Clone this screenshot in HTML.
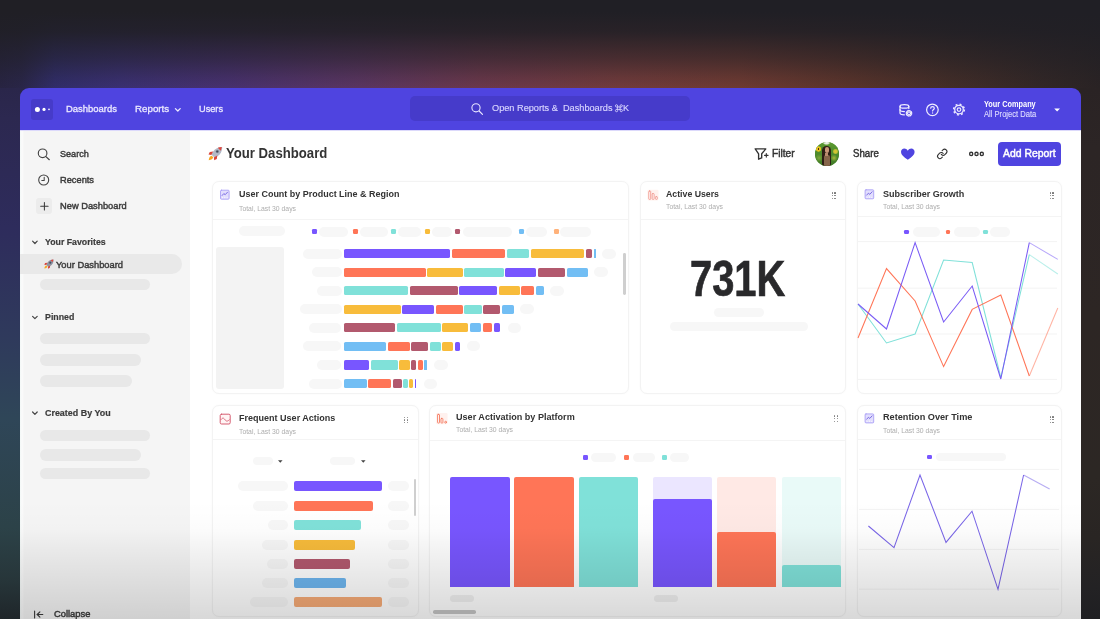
<!DOCTYPE html>
<html><head><meta charset="utf-8"><title>Your Dashboard</title>
<style>
html,body{margin:0;padding:0;font-family:"Liberation Sans",sans-serif}
body{width:1100px;height:619px;overflow:hidden;position:relative;background:#1f1e24;font-family:"Liberation Sans",sans-serif}
.bgtop{position:absolute;left:0;top:0;width:1100px;height:140px;
 background:linear-gradient(to bottom,#201f25 0,#201f25 12px,rgba(32,31,37,.9) 32px,rgba(32,31,37,.55) 58px,rgba(32,31,37,.2) 78px,rgba(32,31,37,0) 94px),
 linear-gradient(to right,#282444 0,#2a264a 22px,#322e6e 55px,#3c3177 120px,#4b3274 230px,#5f3765 360px,#713a4e 480px,#783d3d 620px,#743c33 740px,#5e352b 850px,#452e28 950px,#332726 1040px,#2a2324 1100px)}
.bgleft{position:absolute;left:0;top:88px;width:24px;height:531px;
 background:linear-gradient(to bottom,#2a264a 0,#2c2850 30px,#2e2c5c 140px,#2f3a5c 250px,#2f4658 330px,#2c4248 440px,#27363a 490px,#1f262a 531px)}
.bgright{position:absolute;left:1078px;top:88px;width:22px;height:531px;background:linear-gradient(to bottom,#2a2324 0,#2c2525 60px,#2d2624 230px,#2c2724 390px,#292523 450px,#232224 500px,#1f1f22 531px)}
#win{position:absolute;left:0;top:0;width:1100px;height:619px;clip-path:inset(88px 19px 0 20px round 9px 9px 0 0)}
.nav{position:absolute;left:20px;top:88px;width:1061px;height:42px;background:#4f44e0}
.side{position:absolute;left:20px;top:130px;width:170px;height:489px;background:#f5f5f5}
.main{position:absolute;left:190px;top:130px;width:891px;height:489px;background:#fff}
.t{position:absolute;white-space:nowrap;line-height:1;transform-origin:0 0;display:block}
.b{position:absolute}
.txt{position:absolute;left:0;top:0;width:1100px;height:619px;filter:blur(.3px)}
.card{position:absolute;background:#fff;border:1px solid #f3f3f3;border-radius:7px;box-shadow:0 0 2px rgba(0,0,0,.03)}
.ov{position:absolute;left:0;top:0;overflow:visible}
.fade{position:absolute;left:20px;top:500px;width:1061px;height:119px;
 background:linear-gradient(to bottom,rgba(0,0,0,0) 0,rgba(0,0,0,.01) 28px,rgba(0,0,0,.055) 54px,rgba(0,0,0,.11) 90px,rgba(0,0,0,.152) 119px)}
</style></head>
<body>
<div class="bgtop"></div><div class="bgleft"></div><div class="bgright"></div>
<div id="win">
<div class="nav"></div><div class="side"></div><div class="main"></div>
<div class="b" style="left:20px;top:130px;width:4px;height:489px;background:linear-gradient(to right,#f3f8f7 0,#fbfbfb 55%,#f5f5f5 100%)"></div>
<div class="b" style="left:20px;top:130px;width:1061px;height:1px;background:#dcd9fb"></div>
<div class="b" style="left:31px;top:98.6px;width:22px;height:21.6px;background:#463bc9;border-radius:3px"></div>
<div class="b" style="left:410px;top:96px;width:280px;height:25.2px;background:#463bca;border-radius:5px"></div>
<div class="b" style="left:998px;top:142.3px;width:63px;height:23.3px;background:#4f44e0;border-radius:4px"></div>
<div class="b" style="left:35.7px;top:198.3px;width:16.3px;height:15.9px;background:#ececec;border-radius:3px;"></div>
<div class="b" style="left:20.0px;top:254.3px;width:162.4px;height:19.8px;background:#e9e9e9;border-radius:0px;border-radius:0 10px 10px 0;"></div>
<div class="b" style="left:39.8px;top:279.0px;width:110.5px;height:11.4px;background:#e8e8e8;border-radius:6px;"></div>
<div class="b" style="left:39.8px;top:333.2px;width:110.7px;height:11.2px;background:#e8e8e8;border-radius:6px;"></div>
<div class="b" style="left:39.8px;top:353.8px;width:101.4px;height:11.8px;background:#e8e8e8;border-radius:6px;"></div>
<div class="b" style="left:39.8px;top:375.2px;width:92.0px;height:11.6px;background:#e8e8e8;border-radius:6px;"></div>
<div class="b" style="left:39.8px;top:429.8px;width:110.7px;height:11.2px;background:#e8e8e8;border-radius:6px;"></div>
<div class="b" style="left:39.8px;top:449.1px;width:101.6px;height:11.6px;background:#e8e8e8;border-radius:6px;"></div>
<div class="b" style="left:39.8px;top:468.0px;width:110.7px;height:11.3px;background:#e8e8e8;border-radius:6px;"></div>
<div class="card" style="left:212px;top:181px;width:415.0px;height:211.0px"></div>
<div class="b" style="left:213.0px;top:218.7px;width:415.0px;height:1.1px;background:#f4f4f4;border-radius:0px;"></div>
<div class="card" style="left:639.5px;top:181px;width:204.2px;height:211.0px"></div>
<div class="b" style="left:640.5px;top:218.9px;width:204.2px;height:1.1px;background:#f4f4f4;border-radius:0px;"></div>
<div class="card" style="left:857px;top:181px;width:203.3px;height:211.0px"></div>
<div class="b" style="left:858.0px;top:215.7px;width:203.3px;height:1.1px;background:#f4f4f4;border-radius:0px;"></div>
<div class="card" style="left:212px;top:405px;width:205.3px;height:210.0px"></div>
<div class="b" style="left:213.0px;top:438.7px;width:205.3px;height:1.1px;background:#f4f4f4;border-radius:0px;"></div>
<div class="card" style="left:429px;top:405px;width:414.7px;height:210.0px"></div>
<div class="b" style="left:430.0px;top:440.1px;width:414.7px;height:1.1px;background:#f4f4f4;border-radius:0px;"></div>
<div class="card" style="left:857px;top:405px;width:203.3px;height:209.5px"></div>
<div class="b" style="left:858.0px;top:439.1px;width:203.3px;height:1.1px;background:#f4f4f4;border-radius:0px;"></div>
<div class="b" style="left:831.6px;top:192.2px;width:1.4px;height:1.4px;background:#7a7a7a;border-radius:0.5px;"></div>
<div class="b" style="left:831.6px;top:194.9px;width:1.4px;height:1.4px;background:#7a7a7a;border-radius:0.5px;"></div>
<div class="b" style="left:831.6px;top:197.6px;width:1.4px;height:1.4px;background:#7a7a7a;border-radius:0.5px;"></div>
<div class="b" style="left:834.3px;top:192.2px;width:1.4px;height:1.4px;background:#7a7a7a;border-radius:0.5px;"></div>
<div class="b" style="left:834.3px;top:194.9px;width:1.4px;height:1.4px;background:#7a7a7a;border-radius:0.5px;"></div>
<div class="b" style="left:834.3px;top:197.6px;width:1.4px;height:1.4px;background:#7a7a7a;border-radius:0.5px;"></div>
<div class="b" style="left:1049.6px;top:192.2px;width:1.4px;height:1.4px;background:#7a7a7a;border-radius:0.5px;"></div>
<div class="b" style="left:1049.6px;top:194.9px;width:1.4px;height:1.4px;background:#7a7a7a;border-radius:0.5px;"></div>
<div class="b" style="left:1049.6px;top:197.6px;width:1.4px;height:1.4px;background:#7a7a7a;border-radius:0.5px;"></div>
<div class="b" style="left:1052.3px;top:192.2px;width:1.4px;height:1.4px;background:#7a7a7a;border-radius:0.5px;"></div>
<div class="b" style="left:1052.3px;top:194.9px;width:1.4px;height:1.4px;background:#7a7a7a;border-radius:0.5px;"></div>
<div class="b" style="left:1052.3px;top:197.6px;width:1.4px;height:1.4px;background:#7a7a7a;border-radius:0.5px;"></div>
<div class="b" style="left:404.0px;top:416.6px;width:1.4px;height:1.4px;background:#7a7a7a;border-radius:0.5px;"></div>
<div class="b" style="left:404.0px;top:419.3px;width:1.4px;height:1.4px;background:#7a7a7a;border-radius:0.5px;"></div>
<div class="b" style="left:404.0px;top:422.0px;width:1.4px;height:1.4px;background:#7a7a7a;border-radius:0.5px;"></div>
<div class="b" style="left:406.7px;top:416.6px;width:1.4px;height:1.4px;background:#7a7a7a;border-radius:0.5px;"></div>
<div class="b" style="left:406.7px;top:419.3px;width:1.4px;height:1.4px;background:#7a7a7a;border-radius:0.5px;"></div>
<div class="b" style="left:406.7px;top:422.0px;width:1.4px;height:1.4px;background:#7a7a7a;border-radius:0.5px;"></div>
<div class="b" style="left:833.8px;top:415.2px;width:1.4px;height:1.4px;background:#7a7a7a;border-radius:0.5px;"></div>
<div class="b" style="left:833.8px;top:417.9px;width:1.4px;height:1.4px;background:#7a7a7a;border-radius:0.5px;"></div>
<div class="b" style="left:833.8px;top:420.6px;width:1.4px;height:1.4px;background:#7a7a7a;border-radius:0.5px;"></div>
<div class="b" style="left:836.5px;top:415.2px;width:1.4px;height:1.4px;background:#7a7a7a;border-radius:0.5px;"></div>
<div class="b" style="left:836.5px;top:417.9px;width:1.4px;height:1.4px;background:#7a7a7a;border-radius:0.5px;"></div>
<div class="b" style="left:836.5px;top:420.6px;width:1.4px;height:1.4px;background:#7a7a7a;border-radius:0.5px;"></div>
<div class="b" style="left:1049.6px;top:416.2px;width:1.4px;height:1.4px;background:#7a7a7a;border-radius:0.5px;"></div>
<div class="b" style="left:1049.6px;top:418.9px;width:1.4px;height:1.4px;background:#7a7a7a;border-radius:0.5px;"></div>
<div class="b" style="left:1049.6px;top:421.6px;width:1.4px;height:1.4px;background:#7a7a7a;border-radius:0.5px;"></div>
<div class="b" style="left:1052.3px;top:416.2px;width:1.4px;height:1.4px;background:#7a7a7a;border-radius:0.5px;"></div>
<div class="b" style="left:1052.3px;top:418.9px;width:1.4px;height:1.4px;background:#7a7a7a;border-radius:0.5px;"></div>
<div class="b" style="left:1052.3px;top:421.6px;width:1.4px;height:1.4px;background:#7a7a7a;border-radius:0.5px;"></div>
<div class="b" style="left:238.6px;top:226.0px;width:46.4px;height:10.0px;background:#f7f7f7;border-radius:5px;"></div>
<div class="b" style="left:312.0px;top:229.2px;width:5.0px;height:5.0px;background:#7856ff;border-radius:1.2px;"></div>
<div class="b" style="left:319.4px;top:227.0px;width:28.6px;height:10.0px;background:#f7f7f7;border-radius:5px;"></div>
<div class="b" style="left:353.4px;top:229.2px;width:5.0px;height:5.0px;background:#ff7557;border-radius:1.2px;"></div>
<div class="b" style="left:360.0px;top:227.0px;width:28.0px;height:10.0px;background:#f7f7f7;border-radius:5px;"></div>
<div class="b" style="left:391.0px;top:229.2px;width:5.0px;height:5.0px;background:#80e1d9;border-radius:1.2px;"></div>
<div class="b" style="left:398.0px;top:227.0px;width:23.0px;height:10.0px;background:#f7f7f7;border-radius:5px;"></div>
<div class="b" style="left:424.6px;top:229.2px;width:5.0px;height:5.0px;background:#f8bc3b;border-radius:1.2px;"></div>
<div class="b" style="left:432.0px;top:227.0px;width:20.0px;height:10.0px;background:#f7f7f7;border-radius:5px;"></div>
<div class="b" style="left:455.0px;top:229.2px;width:5.0px;height:5.0px;background:#b2596e;border-radius:1.2px;"></div>
<div class="b" style="left:463.0px;top:227.0px;width:49.0px;height:10.0px;background:#f7f7f7;border-radius:5px;"></div>
<div class="b" style="left:519.4px;top:229.2px;width:5.0px;height:5.0px;background:#72bef4;border-radius:1.2px;"></div>
<div class="b" style="left:526.0px;top:227.0px;width:21.0px;height:10.0px;background:#f7f7f7;border-radius:5px;"></div>
<div class="b" style="left:553.6px;top:229.2px;width:5.0px;height:5.0px;background:#ffb27a;border-radius:1.2px;"></div>
<div class="b" style="left:560.0px;top:227.0px;width:31.0px;height:10.0px;background:#f7f7f7;border-radius:5px;"></div>
<div class="b" style="left:216.0px;top:247.0px;width:68.0px;height:141.6px;background:#f3f3f3;border-radius:3px;"></div>
<div class="b" style="left:303.0px;top:248.5px;width:38.5px;height:10.0px;background:#f7f7f7;border-radius:5px;"></div>
<div class="b" style="left:344.0px;top:249.0px;width:106.0px;height:9.3px;background:#7856ff;border-radius:1.6px;"></div>
<div class="b" style="left:452.0px;top:249.0px;width:52.6px;height:9.3px;background:#ff7557;border-radius:1.6px;"></div>
<div class="b" style="left:506.6px;top:249.0px;width:22.8px;height:9.3px;background:#80e1d9;border-radius:1.6px;"></div>
<div class="b" style="left:531.0px;top:249.0px;width:53.0px;height:9.3px;background:#f8bc3b;border-radius:1.6px;"></div>
<div class="b" style="left:585.6px;top:249.0px;width:6.4px;height:9.3px;background:#b2596e;border-radius:1.6px;"></div>
<div class="b" style="left:594.0px;top:249.0px;width:1.6px;height:9.3px;background:#72bef4;border-radius:0.6px;"></div>
<div class="b" style="left:602.0px;top:248.5px;width:14.0px;height:10.0px;background:#f7f7f7;border-radius:5px;"></div>
<div class="b" style="left:312.0px;top:267.0px;width:29.5px;height:10.0px;background:#f7f7f7;border-radius:5px;"></div>
<div class="b" style="left:344.0px;top:267.5px;width:81.6px;height:9.3px;background:#ff7557;border-radius:1.6px;"></div>
<div class="b" style="left:427.4px;top:267.5px;width:35.2px;height:9.3px;background:#f8bc3b;border-radius:1.6px;"></div>
<div class="b" style="left:464.4px;top:267.5px;width:39.2px;height:9.3px;background:#80e1d9;border-radius:1.6px;"></div>
<div class="b" style="left:505.0px;top:267.5px;width:31.4px;height:9.3px;background:#7856ff;border-radius:1.6px;"></div>
<div class="b" style="left:538.0px;top:267.5px;width:27.0px;height:9.3px;background:#b2596e;border-radius:1.6px;"></div>
<div class="b" style="left:566.8px;top:267.5px;width:21.2px;height:9.3px;background:#72bef4;border-radius:1.6px;"></div>
<div class="b" style="left:594.0px;top:267.0px;width:14.0px;height:10.0px;background:#f7f7f7;border-radius:5px;"></div>
<div class="b" style="left:317.0px;top:285.5px;width:24.5px;height:10.0px;background:#f7f7f7;border-radius:5px;"></div>
<div class="b" style="left:344.0px;top:286.0px;width:64.4px;height:9.3px;background:#80e1d9;border-radius:1.6px;"></div>
<div class="b" style="left:410.0px;top:286.0px;width:48.0px;height:9.3px;background:#b2596e;border-radius:1.6px;"></div>
<div class="b" style="left:459.4px;top:286.0px;width:37.6px;height:9.3px;background:#7856ff;border-radius:1.6px;"></div>
<div class="b" style="left:499.0px;top:286.0px;width:20.6px;height:9.3px;background:#f8bc3b;border-radius:1.6px;"></div>
<div class="b" style="left:521.4px;top:286.0px;width:12.6px;height:9.3px;background:#ff7557;border-radius:1.6px;"></div>
<div class="b" style="left:535.6px;top:286.0px;width:8.0px;height:9.3px;background:#72bef4;border-radius:1.6px;"></div>
<div class="b" style="left:550.0px;top:285.5px;width:14.0px;height:10.0px;background:#f7f7f7;border-radius:5px;"></div>
<div class="b" style="left:300.0px;top:304.1px;width:41.5px;height:10.0px;background:#f7f7f7;border-radius:5px;"></div>
<div class="b" style="left:344.0px;top:304.6px;width:56.6px;height:9.3px;background:#f8bc3b;border-radius:1.6px;"></div>
<div class="b" style="left:402.0px;top:304.6px;width:32.0px;height:9.3px;background:#7856ff;border-radius:1.6px;"></div>
<div class="b" style="left:436.0px;top:304.6px;width:26.6px;height:9.3px;background:#ff7557;border-radius:1.6px;"></div>
<div class="b" style="left:464.2px;top:304.6px;width:17.4px;height:9.3px;background:#80e1d9;border-radius:1.6px;"></div>
<div class="b" style="left:483.2px;top:304.6px;width:16.8px;height:9.3px;background:#b2596e;border-radius:1.6px;"></div>
<div class="b" style="left:502.0px;top:304.6px;width:11.6px;height:9.3px;background:#72bef4;border-radius:1.6px;"></div>
<div class="b" style="left:520.0px;top:304.1px;width:14.0px;height:10.0px;background:#f7f7f7;border-radius:5px;"></div>
<div class="b" style="left:308.6px;top:322.7px;width:32.9px;height:10.0px;background:#f7f7f7;border-radius:5px;"></div>
<div class="b" style="left:344.0px;top:323.2px;width:51.0px;height:9.3px;background:#b2596e;border-radius:1.6px;"></div>
<div class="b" style="left:396.6px;top:323.2px;width:44.0px;height:9.3px;background:#80e1d9;border-radius:1.6px;"></div>
<div class="b" style="left:442.2px;top:323.2px;width:26.2px;height:9.3px;background:#f8bc3b;border-radius:1.6px;"></div>
<div class="b" style="left:470.0px;top:323.2px;width:11.4px;height:9.3px;background:#72bef4;border-radius:1.6px;"></div>
<div class="b" style="left:483.0px;top:323.2px;width:9.2px;height:9.3px;background:#ff7557;border-radius:1.6px;"></div>
<div class="b" style="left:494.0px;top:323.2px;width:6.4px;height:9.3px;background:#7856ff;border-radius:1.6px;"></div>
<div class="b" style="left:508.0px;top:322.7px;width:12.6px;height:10.0px;background:#f7f7f7;border-radius:5px;"></div>
<div class="b" style="left:302.6px;top:341.3px;width:38.9px;height:10.0px;background:#f7f7f7;border-radius:5px;"></div>
<div class="b" style="left:344.0px;top:341.8px;width:42.0px;height:9.3px;background:#72bef4;border-radius:1.6px;"></div>
<div class="b" style="left:387.6px;top:341.8px;width:22.0px;height:9.3px;background:#ff7557;border-radius:1.6px;"></div>
<div class="b" style="left:411.4px;top:341.8px;width:17.0px;height:9.3px;background:#b2596e;border-radius:1.6px;"></div>
<div class="b" style="left:430.0px;top:341.8px;width:10.6px;height:9.3px;background:#80e1d9;border-radius:1.6px;"></div>
<div class="b" style="left:442.2px;top:341.8px;width:11.2px;height:9.3px;background:#f8bc3b;border-radius:1.6px;"></div>
<div class="b" style="left:455.0px;top:341.8px;width:5.2px;height:9.3px;background:#7856ff;border-radius:1.6px;"></div>
<div class="b" style="left:466.6px;top:341.3px;width:13.4px;height:10.0px;background:#f7f7f7;border-radius:5px;"></div>
<div class="b" style="left:316.6px;top:359.9px;width:24.9px;height:10.0px;background:#f7f7f7;border-radius:5px;"></div>
<div class="b" style="left:344.0px;top:360.4px;width:25.4px;height:9.3px;background:#7856ff;border-radius:1.6px;"></div>
<div class="b" style="left:370.8px;top:360.4px;width:26.8px;height:9.3px;background:#80e1d9;border-radius:1.6px;"></div>
<div class="b" style="left:399.2px;top:360.4px;width:10.4px;height:9.3px;background:#f8bc3b;border-radius:1.6px;"></div>
<div class="b" style="left:411.4px;top:360.4px;width:5.0px;height:9.3px;background:#b2596e;border-radius:1.6px;"></div>
<div class="b" style="left:417.8px;top:360.4px;width:4.8px;height:9.3px;background:#ff7557;border-radius:1.6px;"></div>
<div class="b" style="left:423.8px;top:360.4px;width:2.8px;height:9.3px;background:#72bef4;border-radius:0.6px;"></div>
<div class="b" style="left:434.0px;top:359.9px;width:14.0px;height:10.0px;background:#f7f7f7;border-radius:5px;"></div>
<div class="b" style="left:309.0px;top:378.7px;width:32.5px;height:10.0px;background:#f7f7f7;border-radius:5px;"></div>
<div class="b" style="left:344.0px;top:379.2px;width:22.6px;height:9.3px;background:#72bef4;border-radius:1.6px;"></div>
<div class="b" style="left:368.0px;top:379.2px;width:22.6px;height:9.3px;background:#ff7557;border-radius:1.6px;"></div>
<div class="b" style="left:392.6px;top:379.2px;width:9.0px;height:9.3px;background:#b2596e;border-radius:1.6px;"></div>
<div class="b" style="left:403.4px;top:379.2px;width:4.2px;height:9.3px;background:#80e1d9;border-radius:1.6px;"></div>
<div class="b" style="left:409.2px;top:379.2px;width:3.8px;height:9.3px;background:#f8bc3b;border-radius:1.6px;"></div>
<div class="b" style="left:414.6px;top:379.2px;width:1.8px;height:9.3px;background:#7856ff;border-radius:0.6px;"></div>
<div class="b" style="left:424.0px;top:378.7px;width:13.0px;height:10.0px;background:#f7f7f7;border-radius:5px;"></div>
<div class="b" style="left:623.2px;top:253.0px;width:2.8px;height:41.6px;background:#cfcfcf;border-radius:1.4px;"></div>
<div class="b" style="left:714.0px;top:308.4px;width:50.4px;height:8.8px;background:#f7f7f7;border-radius:4.5px;"></div>
<div class="b" style="left:670.0px;top:322.0px;width:137.6px;height:9.0px;background:#f7f7f7;border-radius:4.5px;"></div>
<div class="b" style="left:904.4px;top:229.6px;width:4.8px;height:4.8px;background:#7856ff;border-radius:1.2px;"></div>
<div class="b" style="left:913.0px;top:227.0px;width:27.4px;height:10.0px;background:#f7f7f7;border-radius:5px;"></div>
<div class="b" style="left:945.6px;top:229.6px;width:4.8px;height:4.8px;background:#ff7557;border-radius:1.2px;"></div>
<div class="b" style="left:954.0px;top:227.0px;width:26.0px;height:10.0px;background:#f7f7f7;border-radius:5px;"></div>
<div class="b" style="left:983.2px;top:229.6px;width:4.8px;height:4.8px;background:#80e1d9;border-radius:1.2px;"></div>
<div class="b" style="left:989.8px;top:227.0px;width:20.6px;height:10.0px;background:#f7f7f7;border-radius:5px;"></div>
<div class="b" style="left:253.4px;top:457.4px;width:19.2px;height:7.6px;background:#f7f7f7;border-radius:4px;"></div>
<div class="b" style="left:330.4px;top:457.4px;width:25.0px;height:7.6px;background:#f7f7f7;border-radius:4px;"></div>
<div class="b" style="left:238.0px;top:481.0px;width:50.0px;height:10.0px;background:#f7f7f7;border-radius:5px;"></div>
<div class="b" style="left:293.6px;top:481.0px;width:88.4px;height:10.0px;background:#7856ff;border-radius:2px;"></div>
<div class="b" style="left:388.0px;top:481.0px;width:21.0px;height:10.0px;background:#f7f7f7;border-radius:5px;"></div>
<div class="b" style="left:253.4px;top:500.6px;width:34.6px;height:10.0px;background:#f7f7f7;border-radius:5px;"></div>
<div class="b" style="left:293.6px;top:500.6px;width:79.4px;height:10.0px;background:#ff7557;border-radius:2px;"></div>
<div class="b" style="left:388.0px;top:500.6px;width:21.0px;height:10.0px;background:#f7f7f7;border-radius:5px;"></div>
<div class="b" style="left:268.0px;top:520.0px;width:20.0px;height:10.0px;background:#f7f7f7;border-radius:5px;"></div>
<div class="b" style="left:293.6px;top:520.0px;width:67.0px;height:10.0px;background:#80e1d9;border-radius:2px;"></div>
<div class="b" style="left:388.0px;top:520.0px;width:21.0px;height:10.0px;background:#f7f7f7;border-radius:5px;"></div>
<div class="b" style="left:262.0px;top:539.6px;width:26.0px;height:10.0px;background:#f7f7f7;border-radius:5px;"></div>
<div class="b" style="left:293.6px;top:539.6px;width:61.0px;height:10.0px;background:#f8bc3b;border-radius:2px;"></div>
<div class="b" style="left:388.0px;top:539.6px;width:21.0px;height:10.0px;background:#f7f7f7;border-radius:5px;"></div>
<div class="b" style="left:267.0px;top:558.8px;width:21.0px;height:10.0px;background:#f7f7f7;border-radius:5px;"></div>
<div class="b" style="left:293.6px;top:558.8px;width:56.0px;height:10.0px;background:#b2596e;border-radius:2px;"></div>
<div class="b" style="left:388.0px;top:558.8px;width:21.0px;height:10.0px;background:#f7f7f7;border-radius:5px;"></div>
<div class="b" style="left:262.0px;top:578.0px;width:26.0px;height:10.0px;background:#f7f7f7;border-radius:5px;"></div>
<div class="b" style="left:293.6px;top:578.0px;width:52.0px;height:10.0px;background:#6db5ee;border-radius:2px;"></div>
<div class="b" style="left:388.0px;top:578.0px;width:21.0px;height:10.0px;background:#f7f7f7;border-radius:5px;"></div>
<div class="b" style="left:250.0px;top:597.4px;width:38.0px;height:10.0px;background:#f7f7f7;border-radius:5px;"></div>
<div class="b" style="left:293.6px;top:597.4px;width:88.4px;height:10.0px;background:#f5aa76;border-radius:2px;"></div>
<div class="b" style="left:388.0px;top:597.4px;width:21.0px;height:10.0px;background:#f7f7f7;border-radius:5px;"></div>
<div class="b" style="left:413.6px;top:479.0px;width:2.8px;height:37.0px;background:#cfcfcf;border-radius:1.4px;"></div>
<div class="b" style="left:583.4px;top:455.0px;width:4.8px;height:4.8px;background:#7856ff;border-radius:1.2px;"></div>
<div class="b" style="left:591.0px;top:452.6px;width:25.4px;height:9.6px;background:#f7f7f7;border-radius:5px;"></div>
<div class="b" style="left:624.4px;top:455.0px;width:4.8px;height:4.8px;background:#ff7557;border-radius:1.2px;"></div>
<div class="b" style="left:633.0px;top:452.6px;width:22.0px;height:9.6px;background:#f7f7f7;border-radius:5px;"></div>
<div class="b" style="left:662.0px;top:455.0px;width:4.8px;height:4.8px;background:#80e1d9;border-radius:1.2px;"></div>
<div class="b" style="left:670.0px;top:452.6px;width:19.4px;height:9.6px;background:#f7f7f7;border-radius:5px;"></div>
<div class="b" style="left:450.0px;top:477.4px;width:59.6px;height:110.0px;background:#7856ff;border-radius:0px;border-radius:2px 2px 0 0;"></div>
<div class="b" style="left:514.4px;top:477.4px;width:59.2px;height:110.0px;background:#ff7557;border-radius:0px;border-radius:2px 2px 0 0;"></div>
<div class="b" style="left:578.6px;top:477.4px;width:59.4px;height:110.0px;background:#80e1d9;border-radius:0px;border-radius:2px 2px 0 0;"></div>
<div class="b" style="left:653.0px;top:477.4px;width:59.4px;height:110.0px;background:#ebe6ff;border-radius:0px;border-radius:2px 2px 0 0;"></div>
<div class="b" style="left:653.0px;top:499.4px;width:59.4px;height:88.0px;background:#7856ff;border-radius:0px;border-radius:2px 2px 0 0;"></div>
<div class="b" style="left:717.4px;top:477.4px;width:58.6px;height:110.0px;background:#ffe9e5;border-radius:0px;border-radius:2px 2px 0 0;"></div>
<div class="b" style="left:717.4px;top:532.0px;width:58.6px;height:55.4px;background:#ff7557;border-radius:0px;border-radius:2px 2px 0 0;"></div>
<div class="b" style="left:781.6px;top:477.4px;width:59.0px;height:110.0px;background:#e9faf8;border-radius:0px;border-radius:2px 2px 0 0;"></div>
<div class="b" style="left:781.6px;top:565.0px;width:59.0px;height:22.4px;background:#80e1d9;border-radius:0px;border-radius:2px 2px 0 0;"></div>
<div class="b" style="left:450.0px;top:595.0px;width:24.0px;height:7.0px;background:#f0f0f0;border-radius:3.5px;"></div>
<div class="b" style="left:654.0px;top:595.0px;width:24.0px;height:7.0px;background:#f0f0f0;border-radius:3.5px;"></div>
<div class="b" style="left:433.0px;top:610.0px;width:43.0px;height:3.6px;background:#c4c4c4;border-radius:1.8px;"></div>
<div class="b" style="left:927.4px;top:454.6px;width:4.8px;height:4.8px;background:#7856ff;border-radius:1.2px;"></div>
<div class="b" style="left:935.6px;top:452.6px;width:70.4px;height:8.2px;background:#f7f7f7;border-radius:4px;"></div>
<svg class="ov" width="1100" height="619" viewBox="0 0 1100 619"><line x1="858" x2="1057" y1="241.6" y2="241.6" stroke="#f3f3f3" stroke-width="1"/><line x1="858" x2="1057" y1="288.2" y2="288.2" stroke="#f3f3f3" stroke-width="1"/><line x1="858" x2="1057" y1="334" y2="334" stroke="#f3f3f3" stroke-width="1"/><line x1="858" x2="1057" y1="379.4" y2="379.4" stroke="#f3f3f3" stroke-width="1"/><polyline points="858.0,304.0 886.5,343.0 915.1,334.0 943.6,260.0 972.2,262.6 1000.8,377.5 1029.3,254.6" fill="none" stroke="#80e1d9" stroke-width="1.05" stroke-linejoin="miter"/><polyline points="1029.3,254.6 1057.8,274.0" fill="none" stroke="#80e1d9" stroke-width="1.05" opacity="0.55"/><polyline points="858.0,338.0 886.5,268.6 915.1,301.0 943.6,366.6 972.2,309.4 1000.8,295.0 1029.3,376.0" fill="none" stroke="#ff7557" stroke-width="1.05" stroke-linejoin="miter"/><polyline points="1029.3,376.0 1057.8,308.0" fill="none" stroke="#ff7557" stroke-width="1.05" opacity="0.55"/><polyline points="858.0,304.0 886.5,329.0 915.1,242.6 943.6,322.0 972.2,286.0 1000.8,379.0 1029.3,242.6" fill="none" stroke="#7a5cf5" stroke-width="1.05" stroke-linejoin="miter"/><polyline points="1029.3,242.6 1057.8,259.4" fill="none" stroke="#7a5cf5" stroke-width="1.05" opacity="0.55"/><line x1="859" x2="1059" y1="469.4" y2="469.4" stroke="#f3f3f3" stroke-width="1"/><line x1="859" x2="1059" y1="509.4" y2="509.4" stroke="#f3f3f3" stroke-width="1"/><line x1="859" x2="1059" y1="549.4" y2="549.4" stroke="#f3f3f3" stroke-width="1"/><line x1="859" x2="1059" y1="589.2" y2="589.2" stroke="#f3f3f3" stroke-width="1"/><polyline points="868.4,526.0 894.0,547.6 920.0,475.0 946.0,542.4 972.0,511.2 998.0,589.4 1023.6,475.0" fill="none" stroke="#7a66e8" stroke-width="1.05" stroke-linejoin="miter"/><polyline points="1023.6,475.0 1049.6,489.0" fill="none" stroke="#7a66e8" stroke-width="1.05" opacity="0.55"/></svg>
<svg class="ov" width="1100" height="619" viewBox="0 0 1100 619" fill="none" stroke-linecap="round" stroke-linejoin="round">
<!-- logo dots -->
<circle cx="37.4" cy="109.4" r="2.5" fill="#fff"/><circle cx="44" cy="109.4" r="1.6" fill="#fff"/><circle cx="49" cy="109.4" r="0.8" fill="#fff"/>
<!-- reports chevron -->
<path d="M175.4 108.6l2.4 2.4 2.4-2.4" stroke="#ebe9ff" stroke-width="1.3"/>
<!-- nav search -->
<circle cx="476" cy="107.8" r="4.1" stroke="#e6e3ff" stroke-width="1.1"/><path d="M479.1 111l3.4 3.4" stroke="#e6e3ff" stroke-width="1.2"/>
<!-- database + gear -->
<g stroke="#efedff" stroke-width="1.25">
<ellipse cx="904.4" cy="106.4" rx="4.4" ry="1.8"/>
<path d="M900 106.4v6.6c0 1 2 1.8 4.4 1.8"/><path d="M908.8 106.4v2.2"/><path d="M900 109.7c0 1 2 1.8 4.4 1.8"/>
<circle cx="909" cy="113.3" r="1.5"/><circle cx="909" cy="113.3" r="2.7" stroke-dasharray="1.1 1.02" stroke-width="1.3"/>
</g>
<!-- help -->
<circle cx="932.4" cy="109.8" r="5.800" stroke="#efedff" stroke-width="1.25"/>
<path d="M930.7 108.2c0-1 .8-1.6 1.8-1.6s1.8.7 1.8 1.6c0 1.3-1.7 1.4-1.7 2.8" stroke="#efedff" stroke-width="1.2"/><circle cx="932.6" cy="113" r=".65" fill="#e9e7ff"/>
<!-- gear -->
<g stroke="#e9e7ff">
<circle cx="959" cy="109.6" r="4.300" stroke-width="1.300"/>
<circle cx="959" cy="109.6" r="5.3" stroke-width="1.6" stroke-dasharray="1.9 2.26" stroke-linecap="butt"/>
<circle cx="959" cy="109.6" r="1.800" stroke-width="1.200"/>
</g>
<!-- cmd glyph -->
<g stroke="#d9d6ff" stroke-width=".85" transform="translate(615.400 104.700)">
<path d="M2.300 2.300h2.400v2.400h-2.400z"/>
<path d="M2.300 2.300h-1.150a1.150 1.150 0 1 1 1.150-1.150z"/>
<path d="M4.700 2.300v-1.150a1.150 1.150 0 1 1 1.150 1.150z"/>
<path d="M4.700 4.700h1.150a1.150 1.150 0 1 1-1.150 1.150z"/>
<path d="M2.300 4.700v1.150a1.150 1.150 0 1 1-1.150-1.150z"/>
</g>
<!-- company caret -->
<path d="M1054.2 108.6h5.8l-2.9 3z" fill="#fff"/>
<!-- sidebar search -->
<circle cx="42.6" cy="153.3" r="4.3" stroke="#444" stroke-width="1.15"/><path d="M45.9 156.6l3.4 3.1" stroke="#444" stroke-width="1.25"/>
<!-- recents clock -->
<circle cx="43.7" cy="180" r="5" stroke="#444" stroke-width="1.1"/><path d="M44.2 177.2v3.3h-2.4" stroke="#444" stroke-width="1.05"/>
<!-- plus -->
<path d="M44.4 202.6v7.4M40.7 206.3h7.4" stroke="#3a3a3a" stroke-width="1.05"/>
<!-- sidebar chevrons -->
<g stroke="#444" stroke-width="1.2">
<path d="M32.6 241.2l2.3 2.3 2.3-2.3"/><path d="M32.6 316.4l2.3 2.3 2.3-2.3"/><path d="M32.6 412l2.3 2.3 2.3-2.3"/>
</g>
<!-- collapse icon -->
<g stroke="#3a3a3a" stroke-width="1.1"><path d="M34.6 611v7"/><path d="M37.2 614.5h5.6"/><path d="M39.9 611.8l-2.7 2.7 2.7 2.7"/></g>
<!-- rockets -->
<g transform="translate(208 146.4) scale(1)">
<path d="M13.8.6c-3.6.1-6.5 1.600-8.600 4.500l-1.900 3 3.500 3.500 3-1.900c2.900-2.100 4.400-5 4.500-8.600z" fill="#b3b9c7" stroke="none"/>
<path d="M13.800.6c-1.500 0-2.800.3-4 .8l2.900 2.900c.6-1.200.9-2.500 1.100-3.700z" fill="#e0473c" stroke="none"/>
<path d="M5.200 5.100l-3.400.5-1.300 2.600 2.800.3z" fill="#d9443b" stroke="none"/>
<path d="M9.300 9.200l-.5 3.400-2.600 1.300-.3-2.800z" fill="#d9443b" stroke="none"/>
<circle cx="9.300" cy="5.100" r="1.250" fill="#3d4656" stroke="#7d8494" stroke-width=".5"/>
<path d="M3.600 9.300c-1.600.3-2.600 1.700-2.900 4.500 2.800-.3 4.200-1.300 4.500-2.900z" fill="#f6a623" stroke="none"/>
</g>
<g transform="translate(43.9 259.2) scale(0.68)">
<path d="M13.8.6c-3.6.1-6.5 1.600-8.600 4.500l-1.900 3 3.500 3.500 3-1.900c2.900-2.100 4.400-5 4.500-8.600z" fill="#8e94a3" stroke="none"/>
<path d="M13.800.6c-1.500 0-2.800.3-4 .8l2.900 2.900c.6-1.200.9-2.500 1.100-3.700z" fill="#e0473c" stroke="none"/>
<path d="M5.200 5.100l-3.400.5-1.300 2.600 2.800.3z" fill="#d9443b" stroke="none"/>
<path d="M9.300 9.200l-.5 3.400-2.600 1.300-.3-2.800z" fill="#d9443b" stroke="none"/>
<circle cx="9.300" cy="5.100" r="1.250" fill="#39404f" stroke="#5a6070" stroke-width=".5"/>
<path d="M3.600 9.300c-1.600.3-2.600 1.700-2.900 4.500 2.800-.3 4.200-1.300 4.500-2.900z" fill="#f6a623" stroke="none"/>
</g>
<!-- filter icon -->
<g stroke="#333" stroke-width="1.35">
<path d="M755.200 148.900h10.600l-4.100 4.900v4.100l-3.100 1.300v-5.400z"/>
<path d="M766.300 153.500v3.600M764.500 155.300h3.600" stroke-width="1.150"/>
</g>
<!-- heart -->
<path d="M907.800 159.800c-4.300-3-6.800-5.100-6.800-7.900 0-1.900 1.500-3.300 3.300-3.300 1.400 0 2.700.8 3.500 2.100.8-1.300 2.100-2.100 3.500-2.100 1.800 0 3.300 1.400 3.300 3.300 0 2.800-2.500 4.900-6.800 7.900z" fill="#4f44e0"/>
<!-- link -->
<g stroke="#333" stroke-width="2.3" transform="translate(936.600 148.300) scale(0.470)">
<path d="M10 13a5 5 0 0 0 7.540.540l3-3a5 5 0 0 0-7.070-7.070l-1.720 1.710"/>
<path d="M14 11a5 5 0 0 0-7.540-.540l-3 3a5 5 0 0 0 7.070 7.070l1.710-1.710"/>
</g>
<!-- ooo -->
<g stroke="#333" stroke-width="1.350"><circle cx="971.200" cy="153.900" r="1.600"/><circle cx="976.500" cy="153.900" r="1.600"/><circle cx="981.800" cy="153.900" r="1.600"/></g>
<!-- card icons: line-chart (purple) -->
<g>
<rect x="220.500" y="190.200" width="8.600" height="9" rx=".9" fill="#e2defd" stroke="#a79cf6" stroke-width=".85"/>
<path d="M222.100 195.500l1.700-1.900 1.400 1.100 2.300-2.500" stroke="#6252dc" stroke-width=".8"/>
<path d="M222.500 198.200v-1M224.800 198.200v-1.500M227.100 198.200v-1" stroke="#fff" stroke-width=".8" stroke-linecap="butt"/>
</g>
<g transform="translate(644.600 -.4)">
<rect x="220.500" y="190.200" width="8.600" height="9" rx=".9" fill="#e2defd" stroke="#a79cf6" stroke-width=".85"/>
<path d="M222.100 195.500l1.700-1.900 1.400 1.100 2.300-2.500" stroke="#6252dc" stroke-width=".8"/>
<path d="M222.500 198.200v-1M224.800 198.200v-1.500M227.100 198.200v-1" stroke="#fff" stroke-width=".8" stroke-linecap="butt"/>
</g>
<g transform="translate(644.600 223.700)">
<rect x="220.500" y="190.200" width="8.600" height="9" rx=".9" fill="#e2defd" stroke="#a79cf6" stroke-width=".85"/>
<path d="M222.100 195.500l1.700-1.900 1.400 1.100 2.300-2.500" stroke="#6252dc" stroke-width=".8"/>
<path d="M222.500 198.200v-1M224.800 198.200v-1.500M227.100 198.200v-1" stroke="#fff" stroke-width=".8" stroke-linecap="butt"/>
</g>
<!-- bars icon (red) card2 -->
<g stroke="#f2998f" stroke-width=".9">
<rect x="647.500" y="189.800" width="11" height="10.600" rx="1.300" fill="#fff1ee" stroke="none"/>
<rect x="648.800" y="191" width="1.900" height="8.400" rx=".6" fill="#fff"/>
<rect x="652.200" y="193.600" width="1.900" height="5.800" rx=".6" fill="#fff"/>
<rect x="655.600" y="196.600" width="1.700" height="2.800" rx=".6" fill="#fff"/>
</g>
<!-- bars icon card5 -->
<g stroke="#f5795f" stroke-width=".9">
<rect x="436.200" y="413" width="11.400" height="11.200" rx="1.300" fill="#fff1ee" stroke="none"/>
<rect x="437.600" y="414.400" width="1.900" height="8.600" rx=".6" fill="#fff"/>
<rect x="441" y="418.400" width="1.900" height="4.600" rx=".6" fill="#fff"/>
<circle cx="445.600" cy="422.200" r=".9" fill="#fff"/>
</g>
<!-- wave icon card4 -->
<rect x="220.200" y="414.200" width="10" height="9.800" rx="1.300" fill="#fff5f5" stroke="#d4566c" stroke-width=".95"/>
<path d="M221 419.600c1.400-2 2.500-2 3.900 0s2.600 2 4.400.2" stroke="#d4566c" stroke-width=".85"/>
<!-- carets card4 -->
<path d="M278 460.200h4.600l-2.300 2.500zM361 460.200h4.600l-2.300 2.500z" fill="#444"/>
</svg>
<!-- avatar -->
<div class="b" style="left:815px;top:141.600px;width:24px;height:24px;border-radius:50%;overflow:hidden;background:#4d8a2c">
<div class="b" style="left:0;top:0;width:24px;height:24px;background:radial-gradient(circle at 3.500px 7px,#4a2a10 0,#4a2a10 .8px,#e9c21f 1.1px,#e9c21f 2.300px,transparent 3px),radial-gradient(circle at 20.500px 9.500px,#d8c630 0,#c9c233 1.800px,transparent 3px),radial-gradient(circle at 19px 16px,#a9b83a 0,transparent 3.500px),radial-gradient(circle at 4px 16px,#7fa83a 0,transparent 4px),radial-gradient(ellipse 4px 2.600px at 11.500px .5px,#f4f6f2 0,#dfe8d6 60%,transparent 100%),linear-gradient(#5c9a30,#3f7a27)"></div>
<div class="b" style="left:7.200px;top:4.200px;width:9px;height:20px;border-radius:4.500px 4.500px 2px 2px;background:#2e1e15"></div>
<div class="b" style="left:9.500px;top:5.600px;width:4.400px;height:5.600px;border-radius:2.200px;background:#c9987a"></div>
<div class="b" style="left:8.800px;top:13.500px;width:6px;height:11px;border-radius:2px 2px 0 0;background:#86654a"></div>
<div class="b" style="left:10.200px;top:11px;width:3px;height:3.500px;background:#b98a6e"></div>
</div>

<div class="txt">
<span class="t" style="left:66.0px;top:104px;font-size:9.6px;font-weight:400;color:#ebe9ff;transform:scaleX(0.9858);-webkit-text-stroke:0.3px #ebe9ff">Dashboards</span>
<span class="t" style="left:135.4px;top:104px;font-size:9.6px;font-weight:400;color:#ebe9ff;transform:scaleX(1.0180);-webkit-text-stroke:0.3px #ebe9ff">Reports</span>
<span class="t" style="left:198.6px;top:104px;font-size:9.6px;font-weight:400;color:#ebe9ff;transform:scaleX(0.9576);-webkit-text-stroke:0.3px #ebe9ff">Users</span>
<span class="t" style="left:492.0px;top:103px;font-size:9.6px;font-weight:400;color:#d9d6ff;transform:scaleX(0.9574);-webkit-text-stroke:0.15px #d9d6ff">Open Reports &amp;&nbsp; Dashboards</span>
<span class="t" style="left:622.8px;top:103px;font-size:9.6px;font-weight:400;color:#d9d6ff;transform:scaleX(0.9366);-webkit-text-stroke:0.15px #d9d6ff">K</span>
<span class="t" style="left:984.4px;top:100px;font-size:8.3px;font-weight:700;color:#ffffff;transform:scaleX(0.8854)">Your Company</span>
<span class="t" style="left:984.4px;top:110px;font-size:8.3px;font-weight:400;color:#dcd9ff;transform:scaleX(0.9145);-webkit-text-stroke:0.15px #dcd9ff">All Project Data</span>
<span class="t" style="left:59.6px;top:149px;font-size:9.7px;font-weight:400;color:#3b3b3b;transform:scaleX(0.9380);-webkit-text-stroke:0.45px #3b3b3b">Search</span>
<span class="t" style="left:59.6px;top:175px;font-size:9.7px;font-weight:400;color:#3b3b3b;transform:scaleX(0.9565);-webkit-text-stroke:0.45px #3b3b3b">Recents</span>
<span class="t" style="left:59.6px;top:201px;font-size:9.7px;font-weight:400;color:#3b3b3b;transform:scaleX(0.9601);-webkit-text-stroke:0.45px #3b3b3b">New Dashboard</span>
<span class="t" style="left:44.7px;top:237px;font-size:9.7px;font-weight:700;color:#3b3b3b;transform:scaleX(0.9043);-webkit-text-stroke:0.2px #3b3b3b">Your Favorites</span>
<span class="t" style="left:56.3px;top:260px;font-size:9.7px;font-weight:400;color:#3b3b3b;transform:scaleX(0.9619);-webkit-text-stroke:0.45px #3b3b3b">Your Dashboard</span>
<span class="t" style="left:44.7px;top:312px;font-size:9.7px;font-weight:700;color:#3b3b3b;transform:scaleX(0.9103);-webkit-text-stroke:0.2px #3b3b3b">Pinned</span>
<span class="t" style="left:44.7px;top:408px;font-size:9.7px;font-weight:700;color:#3b3b3b;transform:scaleX(0.9207);-webkit-text-stroke:0.2px #3b3b3b">Created By You</span>
<span class="t" style="left:54.0px;top:609px;font-size:9.7px;font-weight:400;color:#3a3a3a;transform:scaleX(0.9654);-webkit-text-stroke:0.45px #3a3a3a">Collapse</span>
<span class="t" style="left:226.2px;top:146px;font-size:14px;font-weight:700;color:#333333;transform:scaleX(0.9390)">Your Dashboard</span>
<span class="t" style="left:772.3px;top:149px;font-size:10.4px;font-weight:400;color:#333;transform:scaleX(0.9786);-webkit-text-stroke:0.45px #333">Filter</span>
<span class="t" style="left:853.4px;top:149px;font-size:10.4px;font-weight:400;color:#333;transform:scaleX(0.9303);-webkit-text-stroke:0.45px #333">Share</span>
<span class="t" style="left:1003.4px;top:149px;font-size:10.4px;font-weight:400;color:#ffffff;transform:scaleX(1.0007);-webkit-text-stroke:0.45px #ffffff">Add Report</span>
<span class="t" style="left:238.6px;top:189px;font-size:9.9px;font-weight:700;color:#333;transform:scaleX(0.9079)">User Count by Product Line &amp; Region</span>
<span class="t" style="left:238.6px;top:206px;font-size:6.7px;font-weight:400;color:#adadad;transform:scaleX(1.0221)">Total, Last 30 days</span>
<span class="t" style="left:665.6px;top:189px;font-size:9.9px;font-weight:700;color:#333;transform:scaleX(0.8856)">Active Users</span>
<span class="t" style="left:665.6px;top:204px;font-size:6.7px;font-weight:400;color:#adadad;transform:scaleX(1.0221)">Total, Last 30 days</span>
<span class="t" style="left:883.0px;top:189px;font-size:9.9px;font-weight:700;color:#333;transform:scaleX(0.9157)">Subscriber Growth</span>
<span class="t" style="left:883.0px;top:204px;font-size:6.7px;font-weight:400;color:#adadad;transform:scaleX(1.0221)">Total, Last 30 days</span>
<span class="t" style="left:238.6px;top:413px;font-size:9.9px;font-weight:700;color:#333;transform:scaleX(0.9133)">Frequent User Actions</span>
<span class="t" style="left:238.6px;top:429px;font-size:6.7px;font-weight:400;color:#adadad;transform:scaleX(1.0221)">Total, Last 30 days</span>
<span class="t" style="left:455.8px;top:412px;font-size:9.9px;font-weight:700;color:#333;transform:scaleX(0.9192)">User Activation by Platform</span>
<span class="t" style="left:455.8px;top:427px;font-size:6.7px;font-weight:400;color:#adadad;transform:scaleX(1.0221)">Total, Last 30 days</span>
<span class="t" style="left:883.0px;top:412px;font-size:9.9px;font-weight:700;color:#333;transform:scaleX(0.9273)">Retention Over Time</span>
<span class="t" style="left:883.0px;top:428px;font-size:6.7px;font-weight:400;color:#adadad;transform:scaleX(1.0221)">Total, Last 30 days</span>
<span class="t" style="left:690.2px;top:254px;font-size:49.5px;font-weight:700;color:#29292b;transform:scaleX(0.8044);-webkit-text-stroke:0.7px #29292b">731K</span>
</div>
<div class="fade"></div>
</div>
</body></html>
